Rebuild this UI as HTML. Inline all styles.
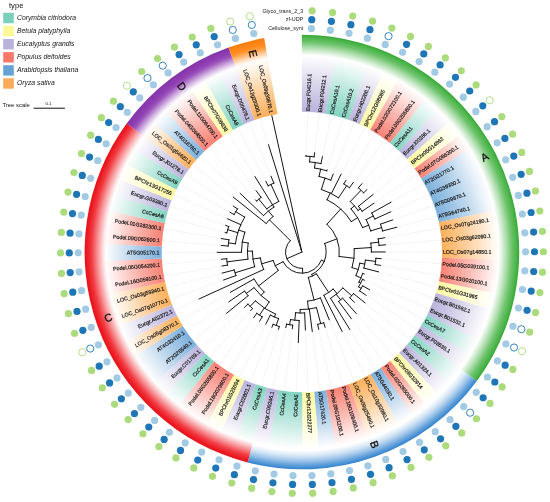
<!DOCTYPE html>
<html lang="en"><head><meta charset="utf-8"><title>CesA phylogenetic tree</title>
<style>html,body{margin:0;padding:0;background:#fff}body{width:550px;height:502px;overflow:hidden}svg{display:block}</style>
</head><body>
<svg width="550" height="502" viewBox="0 0 550 502" font-family="'Liberation Sans', Arial, sans-serif">
<defs>
<radialGradient id="gCc" gradientUnits="userSpaceOnUse" cx="301.9" cy="252.05" r="199.0"><stop offset="0.7045" stop-color="#82d3c1" stop-opacity="1.0"/><stop offset="0.8040" stop-color="#82d3c1" stop-opacity="0.69"/><stop offset="0.8794" stop-color="#82d3c1" stop-opacity="0.42"/><stop offset="0.9447" stop-color="#82d3c1" stop-opacity="0.17"/><stop offset="0.9899" stop-color="#82d3c1" stop-opacity="0.0"/></radialGradient>
<radialGradient id="gBP" gradientUnits="userSpaceOnUse" cx="301.9" cy="252.05" r="199.0"><stop offset="0.7045" stop-color="#fdf9a2" stop-opacity="1.0"/><stop offset="0.8040" stop-color="#fdf9a2" stop-opacity="0.69"/><stop offset="0.8794" stop-color="#fdf9a2" stop-opacity="0.42"/><stop offset="0.9447" stop-color="#fdf9a2" stop-opacity="0.17"/><stop offset="0.9899" stop-color="#fdf9a2" stop-opacity="0.0"/></radialGradient>
<radialGradient id="gEu" gradientUnits="userSpaceOnUse" cx="301.9" cy="252.05" r="199.0"><stop offset="0.7045" stop-color="#bab4dc" stop-opacity="1.0"/><stop offset="0.8040" stop-color="#bab4dc" stop-opacity="0.69"/><stop offset="0.8794" stop-color="#bab4dc" stop-opacity="0.42"/><stop offset="0.9447" stop-color="#bab4dc" stop-opacity="0.17"/><stop offset="0.9899" stop-color="#bab4dc" stop-opacity="0.0"/></radialGradient>
<radialGradient id="gPo" gradientUnits="userSpaceOnUse" cx="301.9" cy="252.05" r="199.0"><stop offset="0.7045" stop-color="#f98275" stop-opacity="1.0"/><stop offset="0.8040" stop-color="#f98275" stop-opacity="0.69"/><stop offset="0.8794" stop-color="#f98275" stop-opacity="0.42"/><stop offset="0.9447" stop-color="#f98275" stop-opacity="0.17"/><stop offset="0.9899" stop-color="#f98275" stop-opacity="0.0"/></radialGradient>
<radialGradient id="gAT" gradientUnits="userSpaceOnUse" cx="301.9" cy="252.05" r="199.0"><stop offset="0.7045" stop-color="#7db0dc" stop-opacity="1.0"/><stop offset="0.8040" stop-color="#7db0dc" stop-opacity="0.69"/><stop offset="0.8794" stop-color="#7db0dc" stop-opacity="0.42"/><stop offset="0.9447" stop-color="#7db0dc" stop-opacity="0.17"/><stop offset="0.9899" stop-color="#7db0dc" stop-opacity="0.0"/></radialGradient>
<radialGradient id="gLO" gradientUnits="userSpaceOnUse" cx="301.9" cy="252.05" r="199.0"><stop offset="0.7045" stop-color="#fcb05c" stop-opacity="1.0"/><stop offset="0.8040" stop-color="#fcb05c" stop-opacity="0.69"/><stop offset="0.8794" stop-color="#fcb05c" stop-opacity="0.42"/><stop offset="0.9447" stop-color="#fcb05c" stop-opacity="0.17"/><stop offset="0.9899" stop-color="#fcb05c" stop-opacity="0.0"/></radialGradient>
<radialGradient id="rA" gradientUnits="userSpaceOnUse" cx="301.9" cy="252.05" r="217.3"><stop offset="0.9066" stop-color="#48b446" stop-opacity="0.0"/><stop offset="0.9365" stop-color="#48b446" stop-opacity="0.38"/><stop offset="0.9664" stop-color="#48b446" stop-opacity="0.8"/><stop offset="0.9894" stop-color="#48b446" stop-opacity="1.0"/><stop offset="1" stop-color="#38a538"/></radialGradient>
<radialGradient id="rB" gradientUnits="userSpaceOnUse" cx="301.9" cy="252.05" r="217.3"><stop offset="0.9135" stop-color="#3d8ad2" stop-opacity="0.0"/><stop offset="0.9388" stop-color="#3d8ad2" stop-opacity="0.22"/><stop offset="0.9595" stop-color="#3d8ad2" stop-opacity="0.48"/><stop offset="0.9779" stop-color="#3d8ad2" stop-opacity="0.76"/><stop offset="0.9954" stop-color="#3d8ad2" stop-opacity="1.0"/><stop offset="1" stop-color="#2f7cc6"/></radialGradient>
<radialGradient id="rC" gradientUnits="userSpaceOnUse" cx="301.9" cy="252.05" r="217.3"><stop offset="0.9020" stop-color="#ee1c24" stop-opacity="0.0"/><stop offset="0.9135" stop-color="#ee1c24" stop-opacity="0.12"/><stop offset="0.9365" stop-color="#ee1c24" stop-opacity="0.42"/><stop offset="0.9526" stop-color="#ee1c24" stop-opacity="0.64"/><stop offset="0.9687" stop-color="#ee1c24" stop-opacity="0.86"/><stop offset="0.9871" stop-color="#ee1c24" stop-opacity="1.0"/><stop offset="1" stop-color="#e3141c"/></radialGradient>
<radialGradient id="rD" gradientUnits="userSpaceOnUse" cx="301.9" cy="252.05" r="217.3"><stop offset="0.9020" stop-color="#9040b4" stop-opacity="0.0"/><stop offset="0.9135" stop-color="#9040b4" stop-opacity="0.15"/><stop offset="0.9342" stop-color="#9040b4" stop-opacity="0.5"/><stop offset="0.9572" stop-color="#9040b4" stop-opacity="0.9"/><stop offset="0.9710" stop-color="#9040b4" stop-opacity="1.0"/><stop offset="1" stop-color="#8434a8"/></radialGradient>
<radialGradient id="rE" gradientUnits="userSpaceOnUse" cx="301.9" cy="252.05" r="217.3"><stop offset="0.9020" stop-color="#ff8a1c" stop-opacity="0.0"/><stop offset="0.9135" stop-color="#ff8a1c" stop-opacity="0.15"/><stop offset="0.9342" stop-color="#ff8a1c" stop-opacity="0.5"/><stop offset="0.9572" stop-color="#ff8a1c" stop-opacity="0.9"/><stop offset="0.9710" stop-color="#ff8a1c" stop-opacity="1.0"/><stop offset="1" stop-color="#f57c0c"/></radialGradient>
<linearGradient id="lCc" x1="0" y1="0" x2="0" y2="1"><stop offset="0" stop-color="#82d3c1" stop-opacity="0.8"/><stop offset="1" stop-color="#82d3c1"/></linearGradient>
<linearGradient id="lBP" x1="0" y1="0" x2="0" y2="1"><stop offset="0" stop-color="#fdf9a2" stop-opacity="0.8"/><stop offset="1" stop-color="#fdf9a2"/></linearGradient>
<linearGradient id="lEu" x1="0" y1="0" x2="0" y2="1"><stop offset="0" stop-color="#bab4dc" stop-opacity="0.8"/><stop offset="1" stop-color="#bab4dc"/></linearGradient>
<linearGradient id="lPo" x1="0" y1="0" x2="0" y2="1"><stop offset="0" stop-color="#f98275" stop-opacity="0.8"/><stop offset="1" stop-color="#f98275"/></linearGradient>
<linearGradient id="lAT" x1="0" y1="0" x2="0" y2="1"><stop offset="0" stop-color="#7db0dc" stop-opacity="0.8"/><stop offset="1" stop-color="#7db0dc"/></linearGradient>
<linearGradient id="lLO" x1="0" y1="0" x2="0" y2="1"><stop offset="0" stop-color="#fcb05c" stop-opacity="0.8"/><stop offset="1" stop-color="#fcb05c"/></linearGradient>
</defs>
<rect width="550" height="502" fill="#fff"/>
<g id="wedges">
<path d="M301.9 53.05A199.0 199.0 0 0 1 335.51 55.91L325.58 113.86A140.2 140.2 0 0 0 301.9 111.85Z" fill="url(#gEu)"/>
<path d="M335.51 55.91A199.0 199.0 0 0 1 368.15 64.4L348.57 119.85A140.2 140.2 0 0 0 325.58 113.86Z" fill="url(#gCc)"/>
<path d="M368.15 64.4A199.0 199.0 0 0 1 383.81 70.69L359.61 124.28A140.2 140.2 0 0 0 348.57 119.85Z" fill="url(#gEu)"/>
<path d="M383.81 70.69A199.0 199.0 0 0 1 398.88 78.28L370.23 129.63A140.2 140.2 0 0 0 359.61 124.28Z" fill="url(#gBP)"/>
<path d="M398.88 78.28A199.0 199.0 0 0 1 426.83 97.16L389.92 142.92A140.2 140.2 0 0 0 370.23 129.63Z" fill="url(#gPo)"/>
<path d="M426.83 97.16A199.0 199.0 0 0 1 439.51 108.3L398.85 150.77A140.2 140.2 0 0 0 389.92 142.92Z" fill="url(#gCc)"/>
<path d="M439.51 108.3A199.0 199.0 0 0 1 451.2 120.48L407.08 159.35A140.2 140.2 0 0 0 398.85 150.77Z" fill="url(#gEu)"/>
<path d="M451.2 120.48A199.0 199.0 0 0 1 461.81 133.6L414.56 168.6A140.2 140.2 0 0 0 407.08 159.35Z" fill="url(#gBP)"/>
<path d="M461.81 133.6A199.0 199.0 0 0 1 471.27 147.58L421.23 178.45A140.2 140.2 0 0 0 414.56 168.6Z" fill="url(#gPo)"/>
<path d="M471.27 147.58A199.0 199.0 0 0 1 496.39 209.92L438.92 222.37A140.2 140.2 0 0 0 421.23 178.45Z" fill="url(#gAT)"/>
<path d="M496.39 209.92A199.0 199.0 0 0 1 500.73 260.25L441.98 257.83A140.2 140.2 0 0 0 438.92 222.37Z" fill="url(#gLO)"/>
<path d="M500.73 260.25A199.0 199.0 0 0 1 496.49 293.71L438.99 281.4A140.2 140.2 0 0 0 441.98 257.83Z" fill="url(#gPo)"/>
<path d="M496.49 293.71A199.0 199.0 0 0 1 492.26 310.05L436.01 292.91A140.2 140.2 0 0 0 438.99 281.4Z" fill="url(#gBP)"/>
<path d="M492.26 310.05A199.0 199.0 0 0 1 479.73 341.36L427.19 314.97A140.2 140.2 0 0 0 436.01 292.91Z" fill="url(#gEu)"/>
<path d="M479.73 341.36A199.0 199.0 0 0 1 471.52 356.11L421.4 325.36A140.2 140.2 0 0 0 427.19 314.97Z" fill="url(#gCc)"/>
<path d="M471.52 356.11A199.0 199.0 0 0 1 462.1 370.11L414.76 335.23A140.2 140.2 0 0 0 421.4 325.36Z" fill="url(#gEu)"/>
<path d="M462.1 370.11A199.0 199.0 0 0 1 451.52 383.26L407.31 344.49A140.2 140.2 0 0 0 414.76 335.23Z" fill="url(#gCc)"/>
<path d="M451.52 383.26A199.0 199.0 0 0 1 439.86 395.47L399.1 353.09A140.2 140.2 0 0 0 407.31 344.49Z" fill="url(#gEu)"/>
<path d="M439.86 395.47A199.0 199.0 0 0 1 427.21 406.64L390.18 360.96A140.2 140.2 0 0 0 399.1 353.09Z" fill="url(#gBP)"/>
<path d="M427.21 406.64A199.0 199.0 0 0 1 413.66 416.7L380.64 368.05A140.2 140.2 0 0 0 390.18 360.96Z" fill="url(#gPo)"/>
<path d="M413.66 416.7A199.0 199.0 0 0 1 399.3 425.58L370.52 374.31A140.2 140.2 0 0 0 380.64 368.05Z" fill="url(#gAT)"/>
<path d="M399.3 425.58A199.0 199.0 0 0 1 368.6 439.54L348.89 384.14A140.2 140.2 0 0 0 370.52 374.31Z" fill="url(#gLO)"/>
<path d="M368.6 439.54A199.0 199.0 0 0 1 335.98 448.11L325.91 390.18A140.2 140.2 0 0 0 348.89 384.14Z" fill="url(#gPo)"/>
<path d="M335.98 448.11A199.0 199.0 0 0 1 319.24 450.29L314.12 391.72A140.2 140.2 0 0 0 325.91 390.18Z" fill="url(#gAT)"/>
<path d="M319.24 450.29A199.0 199.0 0 0 1 302.38 451.05L302.24 392.25A140.2 140.2 0 0 0 314.12 391.72Z" fill="url(#gBP)"/>
<path d="M302.38 451.05A199.0 199.0 0 0 1 268.77 448.27L278.56 390.29A140.2 140.2 0 0 0 302.24 392.25Z" fill="url(#gCc)"/>
<path d="M268.77 448.27A199.0 199.0 0 0 1 252.26 444.76L266.93 387.82A140.2 140.2 0 0 0 278.56 390.29Z" fill="url(#gEu)"/>
<path d="M252.26 444.76A199.0 199.0 0 0 1 236.11 439.86L255.55 384.37A140.2 140.2 0 0 0 266.93 387.82Z" fill="url(#gCc)"/>
<path d="M236.11 439.86A199.0 199.0 0 0 1 220.43 433.61L244.5 379.96A140.2 140.2 0 0 0 255.55 384.37Z" fill="url(#gEu)"/>
<path d="M220.43 433.61A199.0 199.0 0 0 1 205.34 426.05L233.87 374.64A140.2 140.2 0 0 0 244.5 379.96Z" fill="url(#gBP)"/>
<path d="M205.34 426.05A199.0 199.0 0 0 1 177.34 407.25L214.15 361.39A140.2 140.2 0 0 0 233.87 374.64Z" fill="url(#gPo)"/>
<path d="M177.34 407.25A199.0 199.0 0 0 1 164.64 396.13L205.2 353.56A140.2 140.2 0 0 0 214.15 361.39Z" fill="url(#gCc)"/>
<path d="M164.64 396.13A199.0 199.0 0 0 1 152.92 383.98L196.94 345A140.2 140.2 0 0 0 205.2 353.56Z" fill="url(#gEu)"/>
<path d="M152.92 383.98A199.0 199.0 0 0 1 132.78 356.93L182.75 325.94A140.2 140.2 0 0 0 196.94 345Z" fill="url(#gAT)"/>
<path d="M132.78 356.93A199.0 199.0 0 0 1 124.5 342.22L176.92 315.58A140.2 140.2 0 0 0 182.75 325.94Z" fill="url(#gLO)"/>
<path d="M124.5 342.22A199.0 199.0 0 0 1 117.5 326.86L171.99 304.76A140.2 140.2 0 0 0 176.92 315.58Z" fill="url(#gEu)"/>
<path d="M117.5 326.86A199.0 199.0 0 0 1 107.51 294.65L164.95 282.06A140.2 140.2 0 0 0 171.99 304.76Z" fill="url(#gLO)"/>
<path d="M107.51 294.65A199.0 199.0 0 0 1 103.11 261.21L161.85 258.5A140.2 140.2 0 0 0 164.95 282.06Z" fill="url(#gPo)"/>
<path d="M103.11 261.21A199.0 199.0 0 0 1 103.05 244.33L161.81 246.61A140.2 140.2 0 0 0 161.85 258.5Z" fill="url(#gAT)"/>
<path d="M103.05 244.33A199.0 199.0 0 0 1 107.21 210.86L164.74 223.03A140.2 140.2 0 0 0 161.81 246.61Z" fill="url(#gPo)"/>
<path d="M107.21 210.86A199.0 199.0 0 0 1 111.4 194.51L167.69 211.51A140.2 140.2 0 0 0 164.74 223.03Z" fill="url(#gCc)"/>
<path d="M111.4 194.51A199.0 199.0 0 0 1 116.96 178.58L171.61 200.29A140.2 140.2 0 0 0 167.69 211.51Z" fill="url(#gEu)"/>
<path d="M116.96 178.58A199.0 199.0 0 0 1 123.85 163.17L176.46 189.43A140.2 140.2 0 0 0 171.61 200.29Z" fill="url(#gBP)"/>
<path d="M123.85 163.17A199.0 199.0 0 0 1 132.02 148.4L182.22 179.03A140.2 140.2 0 0 0 176.46 189.43Z" fill="url(#gCc)"/>
<path d="M132.02 148.4A199.0 199.0 0 0 1 141.42 134.38L188.84 169.15A140.2 140.2 0 0 0 182.22 179.03Z" fill="url(#gEu)"/>
<path d="M141.42 134.38A199.0 199.0 0 0 1 151.97 121.2L196.27 159.87A140.2 140.2 0 0 0 188.84 169.15Z" fill="url(#gLO)"/>
<path d="M151.97 121.2A199.0 199.0 0 0 1 163.59 108.97L204.46 151.25A140.2 140.2 0 0 0 196.27 159.87Z" fill="url(#gAT)"/>
<path d="M163.59 108.97A199.0 199.0 0 0 1 189.74 87.67L222.88 136.24A140.2 140.2 0 0 0 204.46 151.25Z" fill="url(#gPo)"/>
<path d="M189.74 87.67A199.0 199.0 0 0 1 204.08 78.75L232.98 129.96A140.2 140.2 0 0 0 222.88 136.24Z" fill="url(#gBP)"/>
<path d="M204.08 78.75A199.0 199.0 0 0 1 219.11 71.09L243.57 124.56A140.2 140.2 0 0 0 232.98 129.96Z" fill="url(#gCc)"/>
<path d="M219.11 71.09A199.0 199.0 0 0 1 234.75 64.72L254.59 120.07A140.2 140.2 0 0 0 243.57 124.56Z" fill="url(#gEu)"/>
<path d="M234.75 64.72A199.0 199.0 0 0 1 267.34 56.07L277.55 113.98A140.2 140.2 0 0 0 254.59 120.07Z" fill="url(#gLO)"/>
</g>
<g id="rings">
<path d="M301.9 34.75A217.3 217.3 0 0 1 476.83 380.97L459.68 368.33A196.0 196.0 0 0 0 301.9 56.05Z" fill="url(#rA)"/>
<path d="M476.83 380.97A217.3 217.3 0 0 1 247.7 462.48L253.01 441.85A196.0 196.0 0 0 0 459.68 368.33Z" fill="url(#rB)"/>
<path d="M247.7 462.48A217.3 217.3 0 0 1 126.66 123.56L143.84 136.15A196.0 196.0 0 0 0 253.01 441.85Z" fill="url(#rC)"/>
<path d="M126.66 123.56A217.3 217.3 0 0 1 228.57 47.5L235.76 67.55A196.0 196.0 0 0 0 143.84 136.15Z" fill="url(#rD)"/>
<path d="M228.57 47.5A217.3 217.3 0 0 1 264.17 38.05L267.86 59.03A196.0 196.0 0 0 0 235.76 67.55Z" fill="url(#rE)"/>
</g>
<g id="leaf-labels" font-size="5.3" fill="#161616" stroke="#161616" stroke-width="0.18">
<text transform="translate(307.88 111.18) rotate(-87.57)" dy="0.35em">Eucgr.F04216.1</text>
<text transform="translate(319.8 112.19) rotate(-82.71)" dy="0.35em">Eucgr.F04212.1</text>
<text transform="translate(331.58 114.21) rotate(-77.85)" dy="0.35em">CcCesA10.1</text>
<text transform="translate(343.16 117.22) rotate(-72.99)" dy="0.35em">CcCesA10.2</text>
<text transform="translate(354.43 121.2) rotate(-68.12)" dy="0.35em">Eucgr.H02200.1</text>
<text transform="translate(365.33 126.12) rotate(-63.26)" dy="0.35em">BPChr12G08085</text>
<text transform="translate(375.78 131.95) rotate(-58.4)" dy="0.35em">Podel.02G072100.1</text>
<text transform="translate(385.69 138.65) rotate(-53.54)" dy="0.35em">Podel.05G205800.1</text>
<text transform="translate(395 146.15) rotate(-48.68)" dy="0.35em">CcCesA11</text>
<text transform="translate(403.64 154.42) rotate(-43.82)" dy="0.35em">Eucgr.I00286.1</text>
<text transform="translate(411.54 163.4) rotate(-38.96)" dy="0.35em">BPChr05G14862</text>
<text transform="translate(418.66 173.01) rotate(-34.1)" dy="0.35em">Podel.07G086200.1</text>
<text transform="translate(424.94 183.18) rotate(-29.24)" dy="0.35em">AT2G21770.1</text>
<text transform="translate(430.33 193.86) rotate(-24.38)" dy="0.35em">AT4G39350.1</text>
<text transform="translate(434.8 204.95) rotate(-19.51)" dy="0.35em">AT5G09870.1</text>
<text transform="translate(438.31 216.38) rotate(-14.65)" dy="0.35em">AT5G64740.1</text>
<text transform="translate(440.85 228.07) rotate(-9.79)" dy="0.35em">LOC_Os07g24190.1</text>
<text transform="translate(442.38 239.93) rotate(-4.93)" dy="0.35em">LOC_Os03g62090.1</text>
<text transform="translate(442.9 251.88) rotate(-0.07)" dy="0.35em">LOC_Os07g14850.1</text>
<text transform="translate(442.41 263.83) rotate(4.79)" dy="0.35em">Podel.05G029100.1</text>
<text transform="translate(440.9 275.69) rotate(9.65)" dy="0.35em">Podel.13G020100.1</text>
<text transform="translate(438.4 287.39) rotate(14.51)" dy="0.35em">BPChr01G31965</text>
<text transform="translate(434.91 298.83) rotate(19.37)" dy="0.35em">Eucgr.B01562.1</text>
<text transform="translate(430.47 309.93) rotate(24.24)" dy="0.35em">Eucgr.B01532.1</text>
<text transform="translate(425.11 320.62) rotate(29.1)" dy="0.35em">CcCesA7</text>
<text transform="translate(418.85 330.81) rotate(33.96)" dy="0.35em">Eucgr.F03635.1</text>
<text transform="translate(411.76 340.44) rotate(38.82)" dy="0.35em">CcCesA2</text>
<text transform="translate(403.87 349.43) rotate(43.68)" dy="0.35em">Eucgr.A01324.1</text>
<text transform="translate(395.25 357.72) rotate(48.54)" dy="0.35em">BPChr03G10914</text>
<text transform="translate(385.96 365.25) rotate(53.4)" dy="0.35em">Podel.02G265000.1</text>
<text transform="translate(376.07 371.97) rotate(58.26)" dy="0.35em">AT5G44030.1</text>
<text transform="translate(365.64 377.82) rotate(63.12)" dy="0.35em">LOC_Os10g32980.1</text>
<text transform="translate(354.75 382.77) rotate(67.99)" dy="0.35em">LOC_Os09g25490.1</text>
<text transform="translate(343.48 386.78) rotate(72.85)" dy="0.35em">Podel.18G108400.1</text>
<text transform="translate(331.92 389.82) rotate(77.71)" dy="0.35em">Podel.06G191200.1</text>
<text transform="translate(320.13 391.87) rotate(82.57)" dy="0.35em">AT5G17420.1</text>
<text transform="translate(308.22 392.91) rotate(87.43)" dy="0.35em">BPChr12G22277</text>
<text transform="translate(296.2 394.44) rotate(-87.71)" dy="0.35em" text-anchor="end">CcCesA5</text>
<text transform="translate(284.16 393.44) rotate(-82.85)" dy="0.35em" text-anchor="end">CcCesA4</text>
<text transform="translate(272.24 391.43) rotate(-77.99)" dy="0.35em" text-anchor="end">Eucgr.C00246.1</text>
<text transform="translate(260.53 388.41) rotate(-73.13)" dy="0.35em" text-anchor="end">CcCesA3</text>
<text transform="translate(249.13 384.42) rotate(-68.26)" dy="0.35em" text-anchor="end">Eucgr.C02801.1</text>
<text transform="translate(238.1 379.47) rotate(-63.4)" dy="0.35em" text-anchor="end">BPChr01G25094</text>
<text transform="translate(227.53 373.61) rotate(-58.54)" dy="0.35em" text-anchor="end">Podel.18G029600.1</text>
<text transform="translate(217.5 366.87) rotate(-53.68)" dy="0.35em" text-anchor="end">Podel.06G265800.1</text>
<text transform="translate(208.07 359.3) rotate(-48.82)" dy="0.35em" text-anchor="end">CcCesA1</text>
<text transform="translate(199.32 350.96) rotate(-43.96)" dy="0.35em" text-anchor="end">Eucgr.C01769.1</text>
<text transform="translate(191.31 341.92) rotate(-39.1)" dy="0.35em" text-anchor="end">AT2G25540.1</text>
<text transform="translate(184.09 332.22) rotate(-34.24)" dy="0.35em" text-anchor="end">AT4G32410.1</text>
<text transform="translate(177.72 321.95) rotate(-29.38)" dy="0.35em" text-anchor="end">LOC_Os05g08370.1</text>
<text transform="translate(172.24 311.18) rotate(-24.51)" dy="0.35em" text-anchor="end">Eucgr.A02372.1</text>
<text transform="translate(167.7 299.98) rotate(-19.65)" dy="0.35em" text-anchor="end">LOC_Os07g10770.1</text>
<text transform="translate(164.12 288.43) rotate(-14.79)" dy="0.35em" text-anchor="end">LOC_Os03g59340.1</text>
<text transform="translate(161.54 276.62) rotate(-9.93)" dy="0.35em" text-anchor="end">Podel.16G059100.1</text>
<text transform="translate(159.96 264.64) rotate(-5.07)" dy="0.35em" text-anchor="end">Podel.06G054200.1</text>
<text transform="translate(159.4 252.57) rotate(-0.21)" dy="0.35em" text-anchor="end">AT5G05170.1</text>
<text transform="translate(159.87 240.49) rotate(4.65)" dy="0.35em" text-anchor="end">Podel.09G062600.1</text>
<text transform="translate(161.36 228.5) rotate(9.51)" dy="0.35em" text-anchor="end">Podel.01G282300.1</text>
<text transform="translate(163.86 216.67) rotate(14.38)" dy="0.35em" text-anchor="end">CcCesA6</text>
<text transform="translate(167.36 205.1) rotate(19.24)" dy="0.35em" text-anchor="end">Eucgr.G03380.1</text>
<text transform="translate(171.82 193.87) rotate(24.1)" dy="0.35em" text-anchor="end">BPChr13G17255</text>
<text transform="translate(177.22 183.06) rotate(28.96)" dy="0.35em" text-anchor="end">CcCesA9</text>
<text transform="translate(183.51 172.74) rotate(33.82)" dy="0.35em" text-anchor="end">Eucgr.J01278.1</text>
<text transform="translate(190.66 162.99) rotate(38.68)" dy="0.35em" text-anchor="end">LOC_Os01g54620.1</text>
<text transform="translate(198.61 153.88) rotate(43.54)" dy="0.35em" text-anchor="end">AT4G18780.1</text>
<text transform="translate(207.3 145.48) rotate(48.4)" dy="0.35em" text-anchor="end">Podel.04G064500.1</text>
<text transform="translate(216.67 137.85) rotate(53.26)" dy="0.35em" text-anchor="end">Podel.11G064700.1</text>
<text transform="translate(226.65 131.04) rotate(58.12)" dy="0.35em" text-anchor="end">BPChr07G06638</text>
<text transform="translate(237.18 125.1) rotate(62.99)" dy="0.35em" text-anchor="end">CcCesA8</text>
<text transform="translate(248.17 120.07) rotate(67.85)" dy="0.35em" text-anchor="end">Eucgr.D00476.1</text>
<text transform="translate(259.54 115.99) rotate(72.71)" dy="0.35em" text-anchor="end">LOC_Os12g29300.1</text>
<text transform="translate(271.23 112.89) rotate(77.57)" dy="0.35em" text-anchor="end">LOC_Os09g39870.1</text>
</g>
<g id="clade-letters" font-size="10.8" fill="#111" stroke="#111" stroke-width="0.3" text-anchor="middle">
<text transform="translate(484.62 156.93) rotate(-27.5)" dy="0.36em">A</text>
<text transform="translate(374.57 444.38) rotate(69.3)" dy="0.36em">B</text>
<text transform="translate(108.1 317.65) rotate(-18.7)" dy="0.36em">C</text>
<text transform="translate(181.93 86.32) rotate(54.1)" dy="0.36em">D</text>
<text transform="translate(253.14 53.55) rotate(76.2)" dy="0.36em">E</text>
</g>
<path id="guides" d="M306.02 154.94L307.85 111.98M314.67 152.26L319.69 112.98M322.55 156.15L331.41 114.99M327.18 169.43L342.92 117.99M333.42 173.54L354.14 121.94M341.31 173.82L364.97 126.84M346.23 179.99L375.36 132.63M353.66 182L385.21 139.29M362.38 183.25L394.47 146.75M367.27 189.32L403.06 154.98M373.44 194.2L410.92 163.9M374.44 202.94L418 173.45M391.43 201.94L424.24 183.57M391.26 211.56L429.6 194.19M393.14 219.72L434.05 205.22M397.29 227.11L437.54 216.58M385.27 237.66L440.06 228.21M386.19 244.78L441.58 240M385.7 251.95L442.1 251.88M381.72 258.74L441.61 263.76M380.96 265.5L440.12 275.56M379.15 272.05L437.63 287.19M364.73 274.14L434.16 298.56M364.91 280.42L429.74 309.6M370.06 289.98L424.41 320.23M366.6 295.62L418.19 330.36M365.48 303.2L411.13 339.94M354.84 302.6L403.29 348.88M356.59 313.95L394.72 357.12M351.74 319.17L385.49 364.61M350.08 329.95L375.65 371.29M342.4 331.97L365.28 377.11M329.49 320.28L354.45 382.03M325.29 327.82L343.25 386.01M318.85 329.83L331.75 389.04M312.32 331.97L320.03 391.07M305.42 330.57L308.19 392.11M298.26 343.08L296.29 392.14M292.21 329.24L284.44 391.16M285.71 328.15L272.72 389.18M278.3 329.85L261.2 386.21M271.72 327.76L249.98 382.28M265.59 324.57L239.13 377.41M259.31 321.66L228.73 371.64M253.33 318.12L218.86 365.01M250.34 310.98L209.59 357.57M244.17 307.72L200.98 349.37M226.15 313.6L193.09 340.47M228.49 302.01L185.99 330.93M229.92 292.57L179.73 320.82M198.54 299.18L174.34 310.22M223.08 280.2L169.87 299.2M221.65 273.24L166.35 287.84M221.52 266.12L163.8 276.23M220.92 259.23L162.25 264.44M216.7 252.36L161.7 252.56M220.97 245.46L162.16 240.68M220.93 238.48L163.63 228.88M224.7 232.26L166.09 217.24M225.14 225.26L169.53 205.86M227.14 218.61L173.92 194.81M229.54 212.01L179.23 184.17M232.94 205.85L185.42 174.02M232.97 196.86L192.45 164.43M239.78 193.01L200.27 155.47M255.29 199.55L208.82 147.2M255.78 190.26L218.04 139.69M254.69 176.13L227.86 132.99M265.61 180.87L238.22 127.15M270.83 175.73L249.03 122.2M268.34 144.25L260.23 118.19" fill="none" stroke="#cfcfcf" stroke-width="0.45" stroke-dasharray="0.9 0.9"/>
<path id="tree" d="M301.9 252.05L286.89 258.65M302.53 268.44A16.4 16.4 0 0 1 290.25 240.5M302.53 268.44L302.72 273.23M321.45 260.24A21.2 21.2 0 0 1 283.04 261.73M321.45 260.24L324.4 261.48M324.74 243.46A24.4 24.4 0 0 1 311.79 274.36M324.74 243.46L337 238.85M326.99 224.18A37.5 37.5 0 0 1 339.14 256.47M326.99 224.18L340.71 208.95M327.03 199.78A58 58 0 0 1 351.26 221.6M327.03 199.78L330.28 193.02M321.4 189.52A65.5 65.5 0 0 1 338.55 197.77M321.4 189.52L324.97 178.06M319.02 176.46A77.5 77.5 0 0 1 330.78 180.13M319.02 176.46L320.67 169.15M314.47 167.99A85 85 0 0 1 326.77 170.77M314.47 167.99L315.29 162.55M309.57 161.88A90.5 90.5 0 0 1 320.95 163.58M309.57 161.88L310.04 156.4M305.97 156.14A96 96 0 0 1 314.08 156.83M305.97 156.14L306 155.54M314.08 156.83L314.59 152.86M320.95 163.58L322.43 156.74M326.77 170.77L327.01 170.01M330.78 180.13L333.2 174.1M331.37 193.55L341.04 174.35M338.55 197.77L346.67 185.75M343.82 183.91A80 80 0 0 1 349.44 187.71M343.82 183.91L345.91 180.5M349.44 187.71L353.3 182.48M351.26 221.6L357.65 217.66M351.04 208.74A65.5 65.5 0 0 1 362.65 227.57M351.04 208.74L354.42 205.77M350.31 201.48A70 70 0 0 1 358.15 210.39M350.31 201.48L361.02 190.29M358.35 187.84A85.5 85.5 0 0 1 363.59 192.85M358.35 187.84L361.98 183.71M363.59 192.85L366.84 189.74M358.15 210.39L360.32 208.78M358.43 206.34A72.7 72.7 0 0 1 362.1 211.29M358.43 206.34L372.97 194.58M362.1 211.29L373.94 203.28M362.65 227.57L368.68 225.14M366.16 219.58A72 72 0 0 1 370.72 230.9M366.16 219.58L373.3 215.97M371.71 212.98A80 80 0 0 1 374.77 219.03M371.71 212.98L390.91 202.23M374.77 219.03L390.71 211.81M370.72 230.9L381.62 227.55M380.51 224.19A83.4 83.4 0 0 1 382.59 230.95M380.51 224.19L392.57 219.92M382.59 230.95L396.71 227.26M339.14 256.47L354.03 258.24M354.29 248.65A52.5 52.5 0 0 1 352.04 267.62M354.29 248.65L371.25 247.55M370.83 243.15A69.5 69.5 0 0 1 371.4 251.97M370.83 243.15L378.66 242.13M378.17 238.89A77.4 77.4 0 0 1 379.01 245.4M378.17 238.89L384.68 237.76M379.01 245.4L385.59 244.83M371.4 251.97L385.1 251.95M352.04 267.62L358.25 269.54M359.84 263.17A59 59 0 0 1 355.95 275.7M359.84 263.17L364.75 264.12M365.39 260.1A64 64 0 0 1 363.86 268.09M365.39 260.1L375.61 261.39M375.94 258.26A74.3 74.3 0 0 1 375.15 264.51M375.94 258.26L381.12 258.69M375.15 264.51L380.37 265.4M363.86 268.09L378.57 271.9M355.95 275.7L360.99 277.9M362.75 273.45A64.5 64.5 0 0 1 358.91 282.21M362.75 273.45L364.16 273.95M358.91 282.21L360.68 283.15M362.54 279.35A66.5 66.5 0 0 1 358.58 286.82M362.54 279.35L364.36 280.17M358.58 286.82L361.14 288.39M362.63 285.85A69.5 69.5 0 0 1 359.55 290.87M362.63 285.85L369.53 289.69M359.55 290.87L366.1 295.28M311.79 274.36L312.52 276M316.38 273.88A26.2 26.2 0 0 1 308.36 277.44M316.38 273.88L328.71 292.47M333.23 289.07A48.5 48.5 0 0 1 323.82 295.31M333.23 289.07L337.11 293.65M342.88 287.98A54.5 54.5 0 0 1 330.57 298.4M342.88 287.98L351.67 295.7M353.48 293.55A66.2 66.2 0 0 1 349.78 297.77M353.48 293.55L365.01 302.83M349.78 297.77L354.4 302.19M336.22 294.39L340.63 299.83M342.62 298.14A61.5 61.5 0 0 1 338.57 301.43M342.62 298.14L356.19 313.5M338.57 301.43L351.38 318.69M330.57 298.4L349.77 329.44M323.82 295.31L342.13 331.44M308.36 277.44L314.1 300.02M320.45 297.94A49.5 49.5 0 0 1 307.52 301.23M320.45 297.94L329.26 319.73M307.52 301.23L308.43 309.18M316.51 307.66A57.5 57.5 0 0 1 300.21 309.53M316.51 307.66L320.71 323.62M323.72 322.76A74 74 0 0 1 317.65 324.35M323.72 322.76L325.11 327.25M317.65 324.35L318.72 329.24M309.34 309.07L312.25 331.38M300.21 309.53L300.11 313.02M304.63 312.99A61 61 0 0 1 295.59 312.72M304.63 312.99L305.4 329.97M295.59 312.72L294.81 320.18M299.16 320.5A68.5 68.5 0 0 1 290.5 319.59M299.16 320.5L298.28 342.48M290.5 319.59L289.63 324.72M292.72 325.18A73.7 73.7 0 0 1 286.56 324.14M292.72 325.18L292.29 328.65M286.56 324.14L285.83 327.56M283.04 261.73L275.21 265.75M278.27 270.53A30 30 0 0 1 273.11 260.48M278.27 270.53L258.58 285.94M264.17 292.07A55 55 0 0 1 253.97 279.03M264.17 292.07L260.95 295.49M269.14 301.96A59.7 59.7 0 0 1 254.01 287.7M269.14 301.96L264.86 308.48M275.58 314.21A67.5 67.5 0 0 1 255.34 300.92M275.58 314.21L274.41 316.97M278.59 318.59A70.5 70.5 0 0 1 270.34 315.09M278.59 318.59L276.18 325.48M279.32 326.5A77.8 77.8 0 0 1 273.09 324.32M279.32 326.5L278.47 329.28M273.09 324.32L271.94 327.2M270.34 315.09L265.86 324.03M264.26 308.08L259.52 315.14M262.24 316.88A76 76 0 0 1 256.89 313.29M262.24 316.88L259.63 321.14M256.89 313.29L253.69 317.64M255.34 300.92L250.17 306.35M252.52 308.5A75 75 0 0 1 247.91 304.11M252.52 308.5L250.74 310.53M247.91 304.11L244.6 307.3M254.01 287.7L246.31 293.43M248.12 295.75A69.3 69.3 0 0 1 244.61 291.04M248.12 295.75L226.62 313.22M244.61 291.04L228.98 301.67M253.97 279.03L230.44 292.27M273.11 260.48L261.59 263.85M263.69 269.48A42 42 0 0 1 260.32 257.97M263.69 269.48L199.09 298.94M260.32 257.97L252.89 259.03M254.62 266.71A49.5 49.5 0 0 1 252.41 251.18M254.62 266.71L235.04 272.78M235.98 275.59A70 70 0 0 1 234.22 269.92M235.98 275.59L223.64 280M234.22 269.92L222.23 273.09M252.41 251.18L247.41 251.09M247.87 259.16A54.5 54.5 0 0 1 248.15 243.04M247.87 259.16L227.05 261.9M227.53 265.07A75.5 75.5 0 0 1 226.7 258.72M227.53 265.07L222.11 266.02M226.7 258.72L221.52 259.18M248.15 243.04L242.23 242.05M241.4 252.27A60.5 60.5 0 0 1 244.78 232.12M241.4 252.27L217.3 252.36M244.78 232.12L238.64 229.98M235.41 243.79A67 67 0 0 1 244.71 217.15M235.41 243.79L228.46 242.92M228.14 246.05A74 74 0 0 1 228.92 239.82M228.14 246.05L221.57 245.51M228.92 239.82L221.52 238.58M237.76 232.68L227.71 229.64M226.83 232.81A77.5 77.5 0 0 1 228.73 226.52M226.83 232.81L225.28 232.41M228.73 226.52L225.71 225.46M240.74 224.69L227.68 218.86M244.71 217.15L235.74 211.68M234.09 214.53A77.5 77.5 0 0 1 237.51 208.92M234.09 214.53L230.06 212.3M237.51 208.92L233.44 206.19M290.25 240.5L269.38 219.8M266.15 223.43A45.8 45.8 0 0 1 272.97 216.54M266.15 223.43L233.44 197.24M272.97 216.54L268.43 210.96M263.48 215.54A53 53 0 0 1 273.91 207.04M263.48 215.54L240.21 193.43M273.91 207.04L272.49 204.75M266.72 208.87A55.7 55.7 0 0 1 278.73 201.4M266.72 208.87L258.83 199.17M256.62 201.05A68.2 68.2 0 0 1 261.11 197.39M256.62 201.05L255.69 200M261.11 197.39L256.14 190.74M272.49 204.75L255.01 176.64M278.73 201.4L270.95 184.39M268.11 185.77A74.4 74.4 0 0 1 273.85 183.14M268.11 185.77L265.88 181.4M273.85 183.14L271.06 176.29M301.9 252.05L301.26 249.63M301.16 249.66A2.5 2.5 0 0 1 301.36 249.61M301.16 249.66L268.52 144.83M301.36 249.61L271.87 115.82" fill="none" stroke="#141414" stroke-width="1" stroke-linecap="square" stroke-linejoin="miter"/>
<g id="dots">
<g fill="#a2cae4"><circle cx="311.39" cy="28.55" r="3.6"/><circle cx="330.29" cy="30.16" r="3.6"/><circle cx="348.99" cy="33.36" r="3.6"/><circle cx="367.36" cy="38.14" r="3.6"/><circle cx="385.25" cy="44.46" r="3.6"/><circle cx="402.54" cy="52.27" r="3.6"/><circle cx="419.11" cy="61.51" r="3.6"/><circle cx="434.83" cy="72.13" r="3.6"/><circle cx="449.6" cy="84.04" r="3.6"/><circle cx="463.31" cy="97.16" r="3.6"/><circle cx="475.85" cy="111.4" r="3.6"/><circle cx="487.14" cy="126.64" r="3.6"/><circle cx="497.1" cy="142.79" r="3.6"/><circle cx="505.66" cy="159.73" r="3.6"/><circle cx="512.75" cy="177.33" r="3.6"/><circle cx="518.32" cy="195.46" r="3.6"/><circle cx="522.34" cy="214.01" r="3.6"/><circle cx="524.77" cy="232.82" r="3.6"/><circle cx="525.6" cy="251.78" r="3.6"/><circle cx="524.82" cy="270.74" r="3.6"/><circle cx="522.43" cy="289.56" r="3.6"/><circle cx="518.46" cy="308.11" r="3.6"/><circle cx="512.93" cy="326.26" r="3.6"/><circle cx="505.88" cy="343.88" r="3.6"/><circle cx="497.37" cy="360.83" r="3.6"/><circle cx="487.45" cy="377.01" r="3.6"/><circle cx="476.19" cy="392.28" r="3.6"/><circle cx="463.68" cy="406.55" r="3.6"/><circle cx="450.01" cy="419.7" r="3.6"/><circle cx="435.27" cy="431.65" r="3.6"/><circle cx="419.57" cy="442.3" r="3.6"/><circle cx="403.02" cy="451.59" r="3.6"/><circle cx="385.75" cy="459.44" r="3.6"/><circle cx="367.87" cy="465.8" r="3.6"/><circle cx="349.52" cy="470.62" r="3.6"/><circle cx="330.83" cy="473.87" r="3.6"/><circle cx="311.93" cy="475.53" r="3.6"/><circle cx="292.96" cy="475.57" r="3.6"/><circle cx="274.05" cy="474.01" r="3.6"/><circle cx="255.34" cy="470.85" r="3.6"/><circle cx="236.96" cy="466.12" r="3.6"/><circle cx="219.06" cy="459.84" r="3.6"/><circle cx="201.75" cy="452.08" r="3.6"/><circle cx="185.16" cy="442.87" r="3.6"/><circle cx="169.41" cy="432.29" r="3.6"/><circle cx="154.61" cy="420.42" r="3.6"/><circle cx="140.87" cy="407.33" r="3.6"/><circle cx="128.29" cy="393.12" r="3.6"/><circle cx="116.96" cy="377.9" r="3.6"/><circle cx="106.96" cy="361.78" r="3.6"/><circle cx="98.36" cy="344.87" r="3.6"/><circle cx="91.23" cy="327.28" r="3.6"/><circle cx="85.61" cy="309.16" r="3.6"/><circle cx="81.55" cy="290.63" r="3.6"/><circle cx="79.08" cy="271.82" r="3.6"/><circle cx="78.2" cy="252.86" r="3.6"/><circle cx="78.94" cy="233.9" r="3.6"/><circle cx="81.28" cy="215.08" r="3.6"/><circle cx="85.2" cy="196.51" r="3.6"/><circle cx="90.69" cy="178.35" r="3.6"/><circle cx="97.69" cy="160.72" r="3.6"/><circle cx="106.17" cy="143.74" r="3.6"/><circle cx="116.05" cy="127.54" r="3.6"/><circle cx="127.27" cy="112.24" r="3.6"/><circle cx="139.75" cy="97.95" r="3.6"/><circle cx="153.39" cy="84.76" r="3.6"/><circle cx="168.1" cy="72.78" r="3.6"/><circle cx="183.77" cy="62.08" r="3.6"/><circle cx="200.29" cy="52.76" r="3.6"/><circle cx="217.55" cy="44.86" r="3.6"/><circle cx="235.41" cy="38.46" r="3.6"/><circle cx="253.75" cy="33.59" r="3.6"/></g>
<g fill="#1f76b6"><circle cx="311.76" cy="19.66" r="3.6"/><circle cx="331.42" cy="21.33" r="3.6"/><circle cx="350.87" cy="24.66" r="3.6"/><circle cx="369.96" cy="29.63" r="3.6"/><circle cx="406.54" cy="44.32" r="3.6"/><circle cx="423.77" cy="53.93" r="3.6"/><circle cx="440.12" cy="64.97" r="3.6"/><circle cx="455.48" cy="77.36" r="3.6"/><circle cx="469.73" cy="91" r="3.6"/><circle cx="482.77" cy="105.8" r="3.6"/><circle cx="494.51" cy="121.65" r="3.6"/><circle cx="504.87" cy="138.45" r="3.6"/><circle cx="513.77" cy="156.05" r="3.6"/><circle cx="521.14" cy="174.35" r="3.6"/><circle cx="526.94" cy="193.21" r="3.6"/><circle cx="531.11" cy="212.49" r="3.6"/><circle cx="533.64" cy="232.06" r="3.6"/><circle cx="534.5" cy="251.77" r="3.6"/><circle cx="533.69" cy="271.48" r="3.6"/><circle cx="531.21" cy="291.05" r="3.6"/><circle cx="527.08" cy="310.34" r="3.6"/><circle cx="505.14" cy="365.16" r="3.6"/><circle cx="494.83" cy="381.98" r="3.6"/><circle cx="483.12" cy="397.86" r="3.6"/><circle cx="455.9" cy="426.37" r="3.6"/><circle cx="440.57" cy="438.79" r="3.6"/><circle cx="424.25" cy="449.87" r="3.6"/><circle cx="407.05" cy="459.53" r="3.6"/><circle cx="389.09" cy="467.69" r="3.6"/><circle cx="370.5" cy="474.3" r="3.6"/><circle cx="351.42" cy="479.32" r="3.6"/><circle cx="331.98" cy="482.7" r="3.6"/><circle cx="312.33" cy="484.42" r="3.6"/><circle cx="292.6" cy="484.46" r="3.6"/><circle cx="272.94" cy="482.84" r="3.6"/><circle cx="253.48" cy="479.56" r="3.6"/><circle cx="234.38" cy="474.63" r="3.6"/><circle cx="215.76" cy="468.11" r="3.6"/><circle cx="197.76" cy="460.04" r="3.6"/><circle cx="180.51" cy="450.46" r="3.6"/><circle cx="164.13" cy="439.46" r="3.6"/><circle cx="148.75" cy="427.11" r="3.6"/><circle cx="134.46" cy="413.51" r="3.6"/><circle cx="121.38" cy="398.74" r="3.6"/><circle cx="109.6" cy="382.91" r="3.6"/><circle cx="99.21" cy="366.15" r="3.6"/><circle cx="82.85" cy="330.28" r="3.6"/><circle cx="77.01" cy="311.43" r="3.6"/><circle cx="72.78" cy="292.16" r="3.6"/><circle cx="70.21" cy="272.6" r="3.6"/><circle cx="69.3" cy="252.9" r="3.6"/><circle cx="70.07" cy="233.18" r="3.6"/><circle cx="72.5" cy="213.6" r="3.6"/><circle cx="76.58" cy="194.3" r="3.6"/><circle cx="82.29" cy="175.42" r="3.6"/><circle cx="89.57" cy="157.08" r="3.6"/><circle cx="98.38" cy="139.43" r="3.6"/><circle cx="108.66" cy="122.59" r="3.6"/><circle cx="120.32" cy="106.68" r="3.6"/><circle cx="133.29" cy="91.82" r="3.6"/><circle cx="179.07" cy="54.53" r="3.6"/><circle cx="196.25" cy="44.83" r="3.6"/><circle cx="214.19" cy="36.62" r="3.6"/></g>
<g fill="#fff" stroke="#1f76b6" stroke-width="0.9"><circle cx="388.56" cy="36.2" r="3.6"/><circle cx="521.33" cy="329.21" r="3.6"/><circle cx="514" cy="347.53" r="3.6"/><circle cx="470.12" cy="412.69" r="3.6"/><circle cx="90.27" cy="348.56" r="3.6"/><circle cx="147.48" cy="78.1" r="3.6"/><circle cx="162.77" cy="65.64" r="3.6"/><circle cx="232.76" cy="29.96" r="3.6"/><circle cx="251.83" cy="24.9" r="3.6"/></g>
<g fill="#abdb7c"><circle cx="312.14" cy="10.87" r="3.6"/><circle cx="332.54" cy="12.6" r="3.6"/><circle cx="352.72" cy="16.06" r="3.6"/><circle cx="372.53" cy="21.22" r="3.6"/><circle cx="391.84" cy="28.03" r="3.6"/><circle cx="410.5" cy="36.46" r="3.6"/><circle cx="428.38" cy="46.44" r="3.6"/><circle cx="445.35" cy="57.89" r="3.6"/><circle cx="461.29" cy="70.75" r="3.6"/><circle cx="476.08" cy="84.91" r="3.6"/><circle cx="501.8" cy="116.72" r="3.6"/><circle cx="512.55" cy="134.15" r="3.6"/><circle cx="521.78" cy="152.42" r="3.6"/><circle cx="529.43" cy="171.41" r="3.6"/><circle cx="535.45" cy="190.99" r="3.6"/><circle cx="539.78" cy="211" r="3.6"/><circle cx="542.41" cy="231.3" r="3.6"/><circle cx="543.3" cy="251.76" r="3.6"/><circle cx="542.46" cy="272.21" r="3.6"/><circle cx="539.88" cy="292.53" r="3.6"/><circle cx="535.6" cy="312.55" r="3.6"/><circle cx="529.63" cy="332.13" r="3.6"/><circle cx="512.83" cy="369.44" r="3.6"/><circle cx="502.13" cy="386.89" r="3.6"/><circle cx="489.98" cy="403.38" r="3.6"/><circle cx="476.48" cy="418.77" r="3.6"/><circle cx="461.72" cy="432.96" r="3.6"/><circle cx="445.82" cy="445.86" r="3.6"/><circle cx="428.88" cy="457.36" r="3.6"/><circle cx="411.02" cy="467.38" r="3.6"/><circle cx="392.38" cy="475.85" r="3.6"/><circle cx="373.09" cy="482.71" r="3.6"/><circle cx="353.29" cy="487.92" r="3.6"/><circle cx="333.12" cy="491.42" r="3.6"/><circle cx="312.72" cy="493.21" r="3.6"/><circle cx="292.25" cy="493.26" r="3.6"/><circle cx="271.84" cy="491.57" r="3.6"/><circle cx="251.65" cy="488.16" r="3.6"/><circle cx="231.83" cy="483.06" r="3.6"/><circle cx="212.5" cy="476.29" r="3.6"/><circle cx="193.82" cy="467.9" r="3.6"/><circle cx="175.92" cy="457.97" r="3.6"/><circle cx="158.92" cy="446.55" r="3.6"/><circle cx="142.95" cy="433.74" r="3.6"/><circle cx="128.13" cy="419.61" r="3.6"/><circle cx="114.56" cy="404.29" r="3.6"/><circle cx="102.33" cy="387.86" r="3.6"/><circle cx="91.54" cy="370.46" r="3.6"/><circle cx="74.56" cy="333.24" r="3.6"/><circle cx="68.5" cy="313.68" r="3.6"/><circle cx="64.12" cy="293.68" r="3.6"/><circle cx="61.44" cy="273.38" r="3.6"/><circle cx="60.5" cy="252.93" r="3.6"/><circle cx="61.3" cy="232.47" r="3.6"/><circle cx="63.82" cy="212.15" r="3.6"/><circle cx="68.06" cy="192.12" r="3.6"/><circle cx="73.98" cy="172.52" r="3.6"/><circle cx="81.54" cy="153.49" r="3.6"/><circle cx="90.68" cy="135.17" r="3.6"/><circle cx="101.35" cy="117.69" r="3.6"/><circle cx="113.45" cy="101.18" r="3.6"/><circle cx="141.64" cy="71.52" r="3.6"/><circle cx="157.51" cy="58.59" r="3.6"/><circle cx="174.42" cy="47.05" r="3.6"/><circle cx="192.25" cy="36.99" r="3.6"/><circle cx="210.87" cy="28.47" r="3.6"/></g>
<g fill="#fff" stroke="#abdb7c" stroke-width="0.9"><circle cx="489.61" cy="100.27" r="3.6"/><circle cx="522.02" cy="351.14" r="3.6"/><circle cx="82.26" cy="352.21" r="3.6"/><circle cx="126.92" cy="85.75" r="3.6"/><circle cx="230.15" cy="21.56" r="3.6"/><circle cx="249.94" cy="16.31" r="3.6"/></g>
</g>
<g id="dataset-labels" font-size="5.4" fill="#1a1a1a" text-anchor="end">
<text x="303.2" y="10.8" dy="0.35em">Glyco_trans_2_3</text>
<text x="303.2" y="19.6" dy="0.35em">zf-UDP</text>
<text x="303.2" y="28.3" dy="0.35em">Cellulose_synt</text>
</g>
<g id="legend">
<text x="9" y="8.3" font-size="7.6" fill="#111">type</text>
<rect x="3.2" y="12.8" width="10.6" height="10.4" fill="#7ad0bd"/>
<text x="17" y="19.8" font-size="6.8" font-style="italic" fill="#111">Corymbia citriodora</text>
<rect x="3.2" y="25.9" width="10.6" height="10.4" fill="#fcf896"/>
<text x="17" y="32.9" font-size="6.8" font-style="italic" fill="#111">Betula platyphylla</text>
<rect x="3.2" y="39" width="10.6" height="10.4" fill="#b9b2da"/>
<text x="17" y="46" font-size="6.8" font-style="italic" fill="#111">Eucalyptus grandis</text>
<rect x="3.2" y="52.1" width="10.6" height="10.4" fill="#f7786a"/>
<text x="17" y="59.1" font-size="6.8" font-style="italic" fill="#111">Populus deltoides</text>
<rect x="3.2" y="65.2" width="10.6" height="10.4" fill="#66a2d6"/>
<text x="17" y="72.2" font-size="6.8" font-style="italic" fill="#111">Arabidopsis thaliana</text>
<rect x="3.2" y="78.3" width="10.6" height="10.4" fill="#fbab58"/>
<text x="17" y="85.3" font-size="6.8" font-style="italic" fill="#111">Oryza sativa</text>
<text x="2.5" y="107.2" font-size="5.9" fill="#111">Tree scale</text>
<text x="48.5" y="105.2" font-size="4.4" fill="#111" text-anchor="middle">0.1</text>
<rect x="33.6" y="107.7" width="31.3" height="1" fill="#111"/>
</g>
</svg>
</body></html>
